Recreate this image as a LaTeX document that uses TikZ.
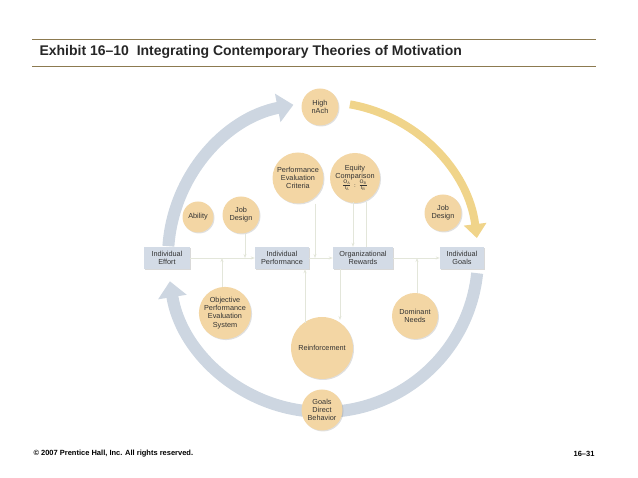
\documentclass[tikz,border=0pt]{standalone}
\usepackage{fontspec}
\setmainfont{Liberation Sans}
\usetikzlibrary{arrows.meta,shadows,calc}
\definecolor{peach}{HTML}{F3D6A4}
\definecolor{boxc}{HTML}{D3DBE6}
\definecolor{ring}{HTML}{CDD6E1}
\definecolor{gold}{HTML}{F0D48A}
\definecolor{rule}{HTML}{8C7A50}
\definecolor{faint}{HTML}{E3E6DA}
\definecolor{txt}{HTML}{333333}
\begin{document}
\begin{tikzpicture}[x=1pt,y=1pt,
  circ/.style={circle,fill=peach,inner sep=0pt,minimum size=#1,align=center,font=\fontsize{7.3}{8.2}\selectfont,text=txt,drop shadow={opacity=0.25,shadow xshift=1pt,shadow yshift=-1pt}},
  bx/.style={rectangle,fill=boxc,inner sep=2pt,minimum height=22pt,minimum width=#1,align=center,font=\fontsize{7.3}{8.2}\selectfont,text=txt,drop shadow={opacity=0.3,shadow xshift=1.2pt,shadow yshift=-1.2pt}},
  thin/.style={draw=faint,line width=0.8pt,-{Stealth[length=4pt]}},
  bigarrow/.style={line width=12pt,-{Triangle[length=16pt,width=28pt]}}]
\useasboundingbox (0,0) rectangle (638,478);
% title
\draw[rule,line width=0.8pt] (32,439) -- (596,439);
\draw[rule,line width=0.8pt] (32,412) -- (596,412);
\node[anchor=west,font=\bfseries\fontsize{14}{16}\selectfont,text=black!85] (title) at (36,426) {Exhibit 16–10\ \ Integrating Contemporary Theories of Motivation};
\node[anchor=west,font=\bfseries\fontsize{7.5}{9}\selectfont] (foot) at (30,24) {© 2007 Prentice Hall, Inc. All rights reserved.};
\node[anchor=east,font=\bfseries\fontsize{7.5}{9}\selectfont] (pg) at (598,24) {16–31};
% ring
\coordinate (c) at (323,221);
\draw[ring,bigarrow] ($(c)+(176:155)$) arc (176:101:155);
\draw[gold,line width=8pt,-{Triangle[length=14pt,width=22pt]}] ($(c)+(80:155)$) arc (80:7:155);
\draw[ring,bigarrow] ($(c)+(-6:155)$) arc (-6:-171:155);
% faint connectors (coordinates)
\coordinate (a1) at (245,220);
\coordinate (a2) at (315,220);
\coordinate (a3) at (222,220);
\coordinate (a4) at (417,220);
\coordinate (e1) at (353,276);
\coordinate (e2) at (366,276);
\coordinate (r1) at (305,155);
\coordinate (r2) at (340,158);
% boxes
\node[bx=46pt] (eff) at (167,220) {Individual\\Effort};
\node[bx=54pt] (perf) at (282,220) {Individual\\Performance};
\node[bx=60pt] (rew) at (363,220) {Organizational\\Rewards};
\node[bx=44pt] (goal) at (462,220) {Individual\\Goals};
% circles
\node[circ=37pt] (nach) at (320,371) {High\\nAch};
\node[circ=41pt] (gdb) at (322,68) {Goals\\Direct\\Behavior};
\node[circ=31pt] (abil) at (198,261) {Ability};
\node[circ=37pt] (jd1) at (241,263) {Job\\Design};
\node[circ=51pt] (pec) at (298,300) {Performance\\Evaluation\\Criteria};
\node[circ=50pt] (eq) at (355,300) {Equity\\Comparison\\[-1pt]$\frac{\mathsf{O_A}}{\mathsf{I_A}}:\frac{\mathsf{O_B}}{\mathsf{I_B}}$};
\node[circ=37pt] (jd2) at (443,265) {Job\\Design};
\node[circ=50pt] (opes) at (225,165) {Objective\\Performance\\Evaluation\\System};
\node[circ=62pt] (reinf) at (322,130) {Reinforcement};
\node[circ=46pt] (dom) at (415,162) {Dominant\\Needs};
% connectors
\draw[thin] (eff) -- (perf);
\draw[thin] (perf) -- (rew);
\draw[thin] (rew) -- (goal);
\draw[thin] (jd1.south -| a1) -- (a1);
\draw[thin] (pec.south -| a2) -- (a2);
\draw[thin] (e1) -- (rew.north -| e1);
\draw[draw=faint,line width=0.8pt] (e2) -- (rew.north -| e2);
\draw[thin] (opes.north -| a3) -- (a3);
\draw[thin] (dom.north -| a4) -- (a4);
\draw[thin] (r1) -- (perf.south -| r1);
\draw[thin] (rew.south -| r2) -- (r2);
\end{tikzpicture}
\end{document}
